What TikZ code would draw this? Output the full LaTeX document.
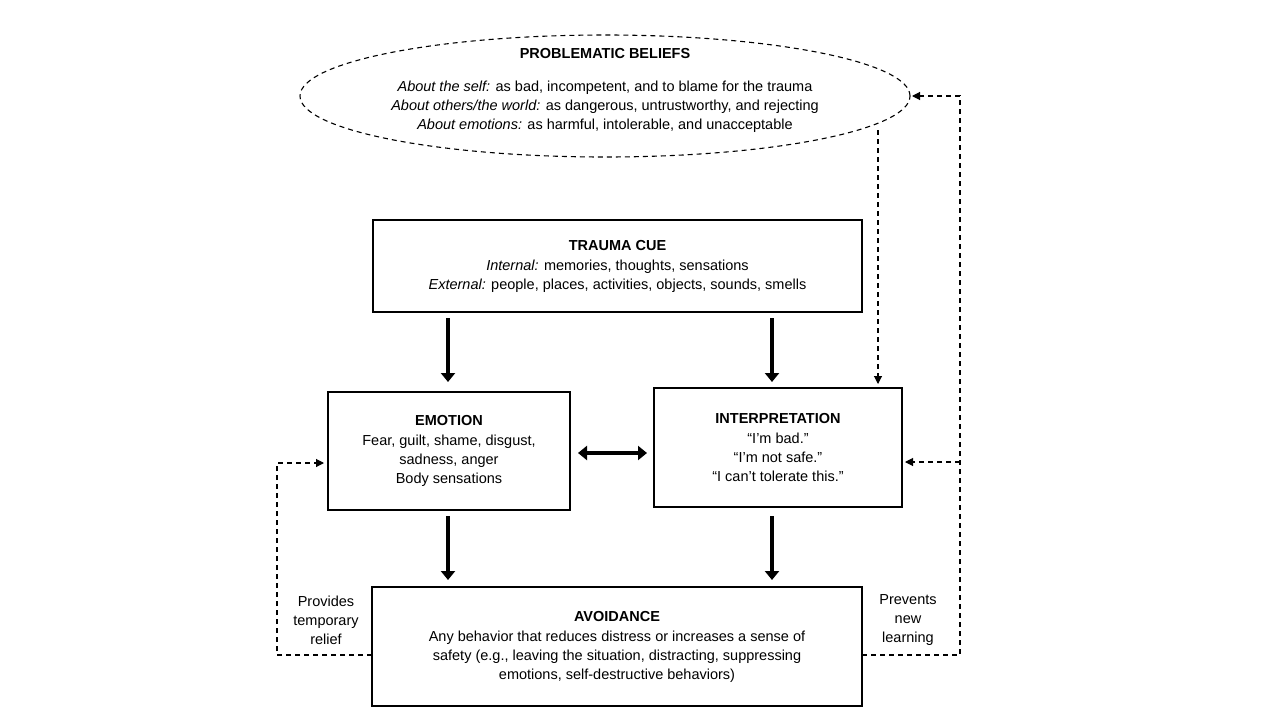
\documentclass[tikz,border=0pt]{standalone}
\usepackage{fontspec}
\setmainfont{Liberation Sans}
\usetikzlibrary{arrows.meta,shapes.geometric}
\begin{document}
\begin{tikzpicture}[x=1pt,y=-1pt,
  box/.style={draw,line width=1.3pt,align=center,inner sep=0pt},
  thick arrow/.style={line width=4pt,-{Triangle[length=9pt,width=14pt]}},
  dline/.style={line width=1.1pt,dash pattern=on 5pt off 4pt},
  dash arrow/.style={dline,-{Triangle[length=8pt,width=8pt]}},
  txt/.style={font=\fontsize{14.5}{19}\selectfont,align=center}]
\useasboundingbox (0,0) rectangle (1280,720);
\node[draw,dline,ellipse,minimum width=610pt,minimum height=122pt] (bel) at (605,96) {};
\node[txt] at (605,54) {\textbf{PROBLEMATIC BELIEFS}};
\node[txt] at (605,107) {\textit{About the self:} as bad, incompetent, and to blame for the trauma\\
\textit{About others/the world:} as dangerous, untrustworthy, and rejecting\\
\textit{About emotions:} as harmful, intolerable, and unacceptable};
\node[box,minimum width=489pt,minimum height=92pt] (tc) at (617.5,266) {};
\node[txt] at (617.5,266) {\textbf{TRAUMA CUE}\\[1pt]\textit{Internal:} memories, thoughts, sensations\\\textit{External:} people, places, activities, objects, sounds, smells};
\node[box,minimum width=242pt,minimum height=118pt] (em) at (449,451) {};
\node[txt] at (449,451) {\textbf{EMOTION}\\[1pt]Fear, guilt, shame, disgust,\\sadness, anger\\Body sensations};
\node[box,minimum width=248pt,minimum height=119pt] (in) at (778,447.5) {};
\node[txt] at (778,447.5) {\textbf{INTERPRETATION}\\[1pt]“I’m bad.”\\“I’m not safe.”\\“I can’t tolerate this.”};
\node[box,minimum width=490pt,minimum height=119pt] (av) at (617,646.5) {};
\node[txt] at (617,646.5) {\textbf{AVOIDANCE}\\[1pt]Any behavior that reduces distress or increases a sense of\\safety (e.g., leaving the situation, distracting, suppressing\\emotions, self-destructive behaviors)};
\coordinate (a1) at (448,318); \coordinate (a2) at (448,382);
\coordinate (b1) at (772,318); \coordinate (b2) at (772,382);
\coordinate (c1) at (448,516); \coordinate (c2) at (448,580);
\coordinate (d1) at (772,516); \coordinate (d2) at (772,580);
\draw[thick arrow] (a1) -- (a2);
\draw[thick arrow] (b1) -- (b2);
\draw[thick arrow] (c1) -- (c2);
\draw[thick arrow] (d1) -- (d2);
\coordinate (e1) at (578,453); \coordinate (e2) at (647,453);
\draw[line width=4pt,{Triangle[length=9pt,width=14pt]}-{Triangle[length=9pt,width=14pt]}] (e1) -- (e2);
\coordinate (f1) at (878,130); \coordinate (f2) at (878,384);
\draw[dash arrow] (f1) -- (f2);
\coordinate (r1) at (862,655); \coordinate (r2) at (960,655); \coordinate (r3) at (960,96); \coordinate (r4) at (912,96);
\draw[dash arrow] (r1) -- (r2) -- (r3) -- (r4);
\coordinate (s1) at (960,462); \coordinate (s2) at (905,462);
\draw[dash arrow] (s1) -- (s2);
\coordinate (l1) at (372,655); \coordinate (l2) at (277,655); \coordinate (l3) at (277,463); \coordinate (l4) at (324,463);
\draw[dash arrow] (l1) -- (l2) -- (l3) -- (l4);
\node[txt] at (326,620) {Provides\\temporary\\relief};
\node[txt] at (908,620) {Prevents\\new\\learning};
\end{tikzpicture}
\end{document}
